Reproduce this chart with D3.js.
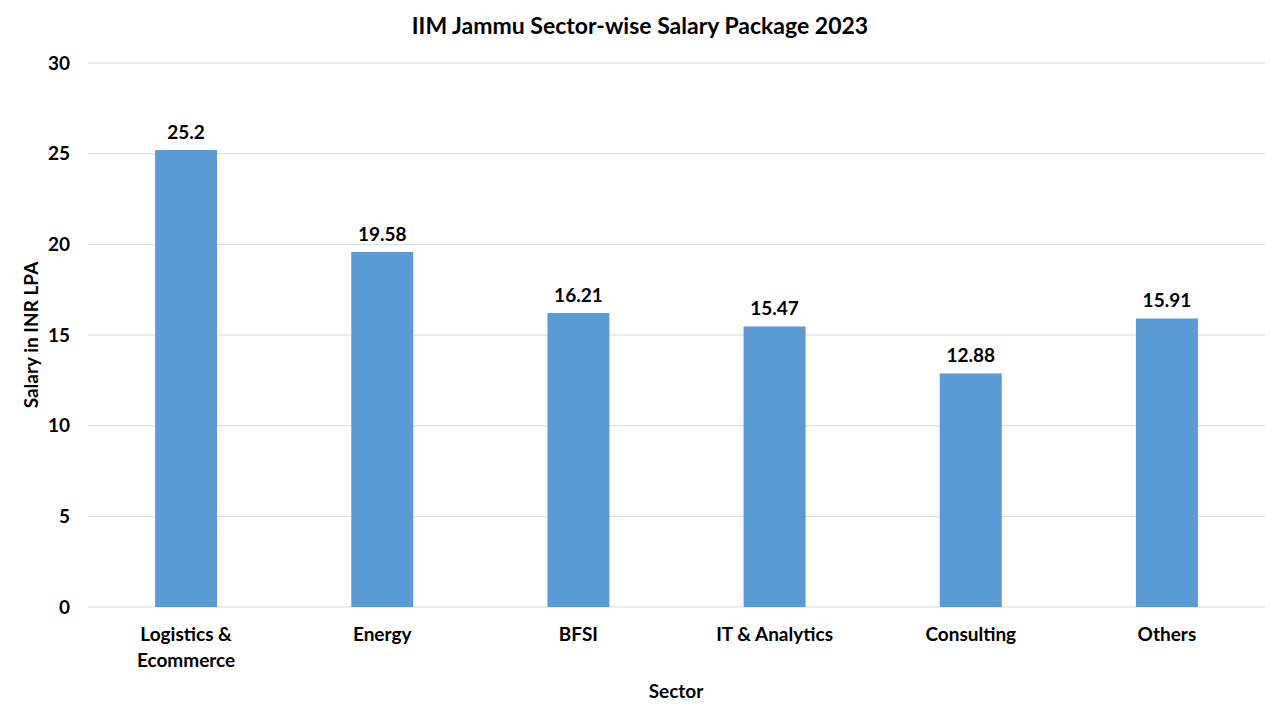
<!DOCTYPE html>
<html>
<head>
<meta charset="utf-8">
<script src="https://cdn.jsdelivr.net/npm/d3@7"></script>
<style>
  body { margin: 0; background: #fff; }
  text { font-family: Lato, "Open Sans", sans-serif; }
</style>
</head>
<body>
<div id="chart"></div>
<script>
// chart data
var sectors = ["Logistics & Ecommerce", "Energy", "BFSI", "IT & Analytics", "Consulting", "Others"];
var salaries = [25.2, 19.58, 16.21, 15.47, 12.88, 15.91];
var valueLabels = ["25.2", "19.58", "16.21", "15.47", "12.88", "15.91"];
var yTicks = [0, 5, 10, 15, 20, 25, 30];

var svgWidth = 1280, svgHeight = 720;
var margin = { top: 63, right: 15, bottom: 113, left: 88 };
var chartWidth = svgWidth - margin.left - margin.right;
var chartHeight = svgHeight - margin.top - margin.bottom;

var svg = d3.select("#chart").append("svg")
  .attr("width", svgWidth)
  .attr("height", svgHeight);

svg.append("rect").attr("width", svgWidth).attr("height", svgHeight).attr("fill", "#fff");

var chart = svg.append("g")
  .attr("transform", "translate(" + margin.left + "," + margin.top + ")");

var x = d3.scaleBand().domain(sectors).range([0, chartWidth]).paddingInner(0.684).paddingOuter(0.342);
var y = d3.scaleLinear().domain([0, 30]).range([chartHeight, 0]);

// gridlines
chart.selectAll(".grid")
  .data(yTicks)
  .enter().append("line")
  .attr("x1", 0).attr("x2", chartWidth)
  .attr("y1", function(d) { return y(d); })
  .attr("y2", function(d) { return y(d); })
  .attr("stroke", "#d9d9d9")
  .attr("stroke-width", 1);

// y axis labels
var yAxis = chart.append("g")
  .call(d3.axisLeft(y).tickValues(yTicks).tickSize(0).tickPadding(18));
yAxis.select(".domain").remove();
yAxis.selectAll("text")
  .attr("font-size", 19).attr("font-weight", "bold").attr("fill", "#000")
  .style("font-family", "Lato, sans-serif");

// bars
chart.selectAll(".bar")
  .data(salaries)
  .enter().append("rect")
  .attr("class", "bar")
  .attr("x", function(d, i) { return x(sectors[i]); })
  .attr("y", function(d) { return y(d); })
  .attr("width", x.bandwidth())
  .attr("height", function(d) { return chartHeight - y(d); })
  .attr("fill", "#5b9bd5");

// value labels
chart.selectAll(".val")
  .data(salaries)
  .enter().append("text")
  .attr("x", function(d, i) { return x(sectors[i]) + x.bandwidth() / 2; })
  .attr("y", function(d) { return y(d) - 11; })
  .attr("text-anchor", "middle")
  .attr("font-size", 19).attr("font-weight", "bold").attr("fill", "#000")
  .text(function(d, i) { return valueLabels[i]; });

// x category labels
var xAxis = chart.append("g")
  .attr("transform", "translate(0," + chartHeight + ")")
  .call(d3.axisBottom(x).tickSize(0).tickPadding(0));
xAxis.select(".domain").remove();
xAxis.selectAll("text").remove();
xAxis.selectAll(".tick").each(function(d) {
  var t = d3.select(this).append("text")
    .attr("text-anchor", "middle")
    .attr("font-size", 19).attr("font-weight", "bold").attr("fill", "#000")
    .style("font-family", "Lato, sans-serif");
  var parts = d === "Logistics & Ecommerce" ? ["Logistics &", "Ecommerce"] : [d];
  parts.forEach(function(p, k) {
    t.append("tspan").attr("x", 0).attr("y", 34 + k * 26).text(p);
  });
});

// title
svg.append("text")
  .attr("x", 640).attr("y", 34)
  .attr("text-anchor", "middle")
  .attr("font-size", 23).attr("font-weight", "bold")
  .text("IIM Jammu Sector-wise Salary Package 2023");

// axis titles
svg.append("text")
  .attr("x", 676).attr("y", 698)
  .attr("text-anchor", "middle")
  .attr("font-size", 19).attr("font-weight", "bold")
  .text("Sector");

svg.append("text")
  .attr("transform", "translate(38,335) rotate(-90)")
  .attr("text-anchor", "middle")
  .attr("font-size", 19).attr("font-weight", "bold")
  .text("Salary in INR LPA");
</script>
</body>
</html>
